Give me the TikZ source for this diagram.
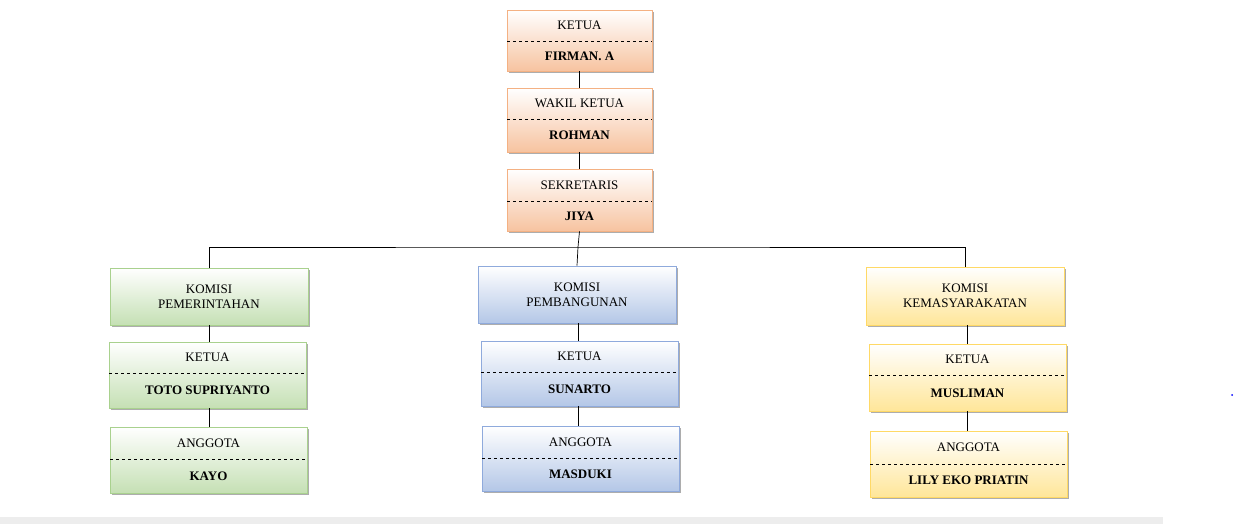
\documentclass[tikz,border=0pt]{standalone}
\usepackage{fontspec}
\setmainfont{Liberation Serif}
\usetikzlibrary{shadows}
\definecolor{orgF}{HTML}{F7C3A0}\definecolor{orgB}{HTML}{F4B183}
\definecolor{grnF}{HTML}{C5E0B4}\definecolor{grnB}{HTML}{A9D18E}
\definecolor{bluF}{HTML}{B4C7E7}\definecolor{bluB}{HTML}{8FAADC}
\definecolor{yelF}{HTML}{FFE699}\definecolor{yelB}{HTML}{FFD966}
\tikzset{
 boxx/.style={draw=#1B,line width=0.8pt,top color=white,bottom color=#1F,inner sep=0pt,
   drop shadow={shadow xshift=2pt,shadow yshift=-2pt,fill=black!40,opacity=.8}},
 lbl/.style={font=\fontsize{13}{15}\selectfont,align=center,inner sep=0pt},
 blbl/.style={font=\fontsize{13}{15}\selectfont\bfseries,inner sep=0pt},
 conn/.style={draw=black,line width=0.7pt}
}
% name, x1, y1, x2, y2, ydash, top, bottom, colour
\newcommand\orgbox[9]{%
 \node[boxx=#9,minimum width=#4pt-#2pt,minimum height=#5pt-#3pt] (#1) at ({(#2+#4)/2},{(#3+#5)/2}) {};
 \draw[dashed,line width=0.7pt] (#2,#6) -- (#4,#6);
 \node[lbl] (#1t) at ({(#2+#4)/2},{(#3+#6)/2}) {#7};
 \node[blbl] (#1b) at ({(#6+#5)/2*0+(#2+#4)/2},{(#6+#5)/2}) {#8};
}
\newcommand\kombox[7]{%
 \node[boxx=#7,minimum width=#4pt-#2pt,minimum height=#5pt-#3pt] (#1) at ({(#2+#4)/2},{(#3+#5)/2}) {};
 \node[lbl] (#1t) at ({(#2+#4)/2},{(#3+#5)/2}) {#6};
}
\begin{document}
\begin{tikzpicture}[x=1pt,y=-1pt]
\useasboundingbox (0,0) rectangle (1234,524);
\fill[black!7] (0,517) rectangle (1163,524);
\fill[blue] (1232,395) circle (1pt);
\orgbox{ketua}{507}{10}{652}{71}{41}{KETUA}{FIRMAN. A}{org}
\orgbox{wakil}{507}{88}{652}{152}{119}{WAKIL KETUA}{ROHMAN}{org}
\orgbox{sek}{507}{169}{652}{231}{201}{SEKRETARIS}{JIYA}{org}
\kombox{kpem}{110}{268}{308}{325}{KOMISI\\PEMERINTAHAN}{grn}
\kombox{kbang}{478}{266}{676}{323}{KOMISI\\PEMBANGUNAN}{blu}
\kombox{kmas}{866}{267}{1064}{325}{KOMISI\\KEMASYARAKATAN}{yel}
\orgbox{gk}{109}{342}{306}{408}{373}{KETUA}{TOTO SUPRIYANTO}{grn}
\orgbox{bk}{481}{341}{678}{406}{372}{KETUA}{SUNARTO}{blu}
\orgbox{yk}{869}{344}{1066}{411}{375}{KETUA}{MUSLIMAN}{yel}
\orgbox{ga}{110}{427}{307}{493}{459}{ANGGOTA}{KAYO}{grn}
\orgbox{ba}{482}{426}{679}{491}{458}{ANGGOTA}{MASDUKI}{blu}
\orgbox{ya}{870}{431}{1067}{497}{464}{ANGGOTA}{LILY EKO PRIATIN}{yel}
\coordinate (bus) at (578,247);
\draw[conn] (ketua.south) -- (wakil.north);
\draw[conn] (wakil.south) -- (sek.north);
\draw[conn] (sek.south) -- (bus);
\draw[conn] (kpem.north -| 209,0) |- (bus) -| (kmas.north -| 965,0);
\draw[conn] (bus) -- (kbang.north);
\draw[conn] (kpem.south -| 209,0) -- (gk.north -| 209,0);
\draw[conn] (gk.south -| 209,0) -- (ga.north -| 209,0);
\draw[conn] (kbang.south -| 578,0) -- (bk.north -| 578,0);
\draw[conn] (bk.south -| 578,0) -- (ba.north -| 578,0);
\draw[conn] (kmas.south -| 967,0) -- (yk.north -| 967,0);
\draw[conn] (yk.south -| 967,0) -- (ya.north -| 967,0);
\end{tikzpicture}
\end{document}
